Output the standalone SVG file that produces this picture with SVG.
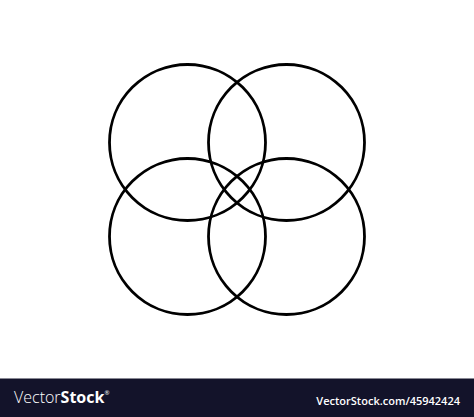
<svg xmlns="http://www.w3.org/2000/svg" width="474" height="417" viewBox="0 0 474 417">
<style>
.c{fill:none;stroke:#000;stroke-width:2.8}
.f{font-family:"Open Sans","Liberation Sans",sans-serif;fill:#fff}
</style>
<rect width="474" height="417" fill="#fff"/>
<g id="tl"><circle class="c" cx="187.5" cy="142.5" r="78"/></g>
<g id="tr"><circle class="c" cx="286.5" cy="142.5" r="78"/></g>
<g id="bl"><circle class="c" cx="187.5" cy="236.5" r="78"/></g>
<g id="br"><circle class="c" cx="286.5" cy="236.5" r="78"/></g>
<rect x="0" y="378.5" width="474" height="38.5" fill="#13132a"/>
<text class="f" x="14" y="403" font-size="16"><tspan font-weight="300">Vector</tspan><tspan font-weight="700">Stock</tspan><tspan font-size="6" dy="-8">®</tspan></text>
<text class="f" x="460" y="405" font-size="11" font-weight="600" text-anchor="end">VectorStock.com/45942424</text>
</svg>
